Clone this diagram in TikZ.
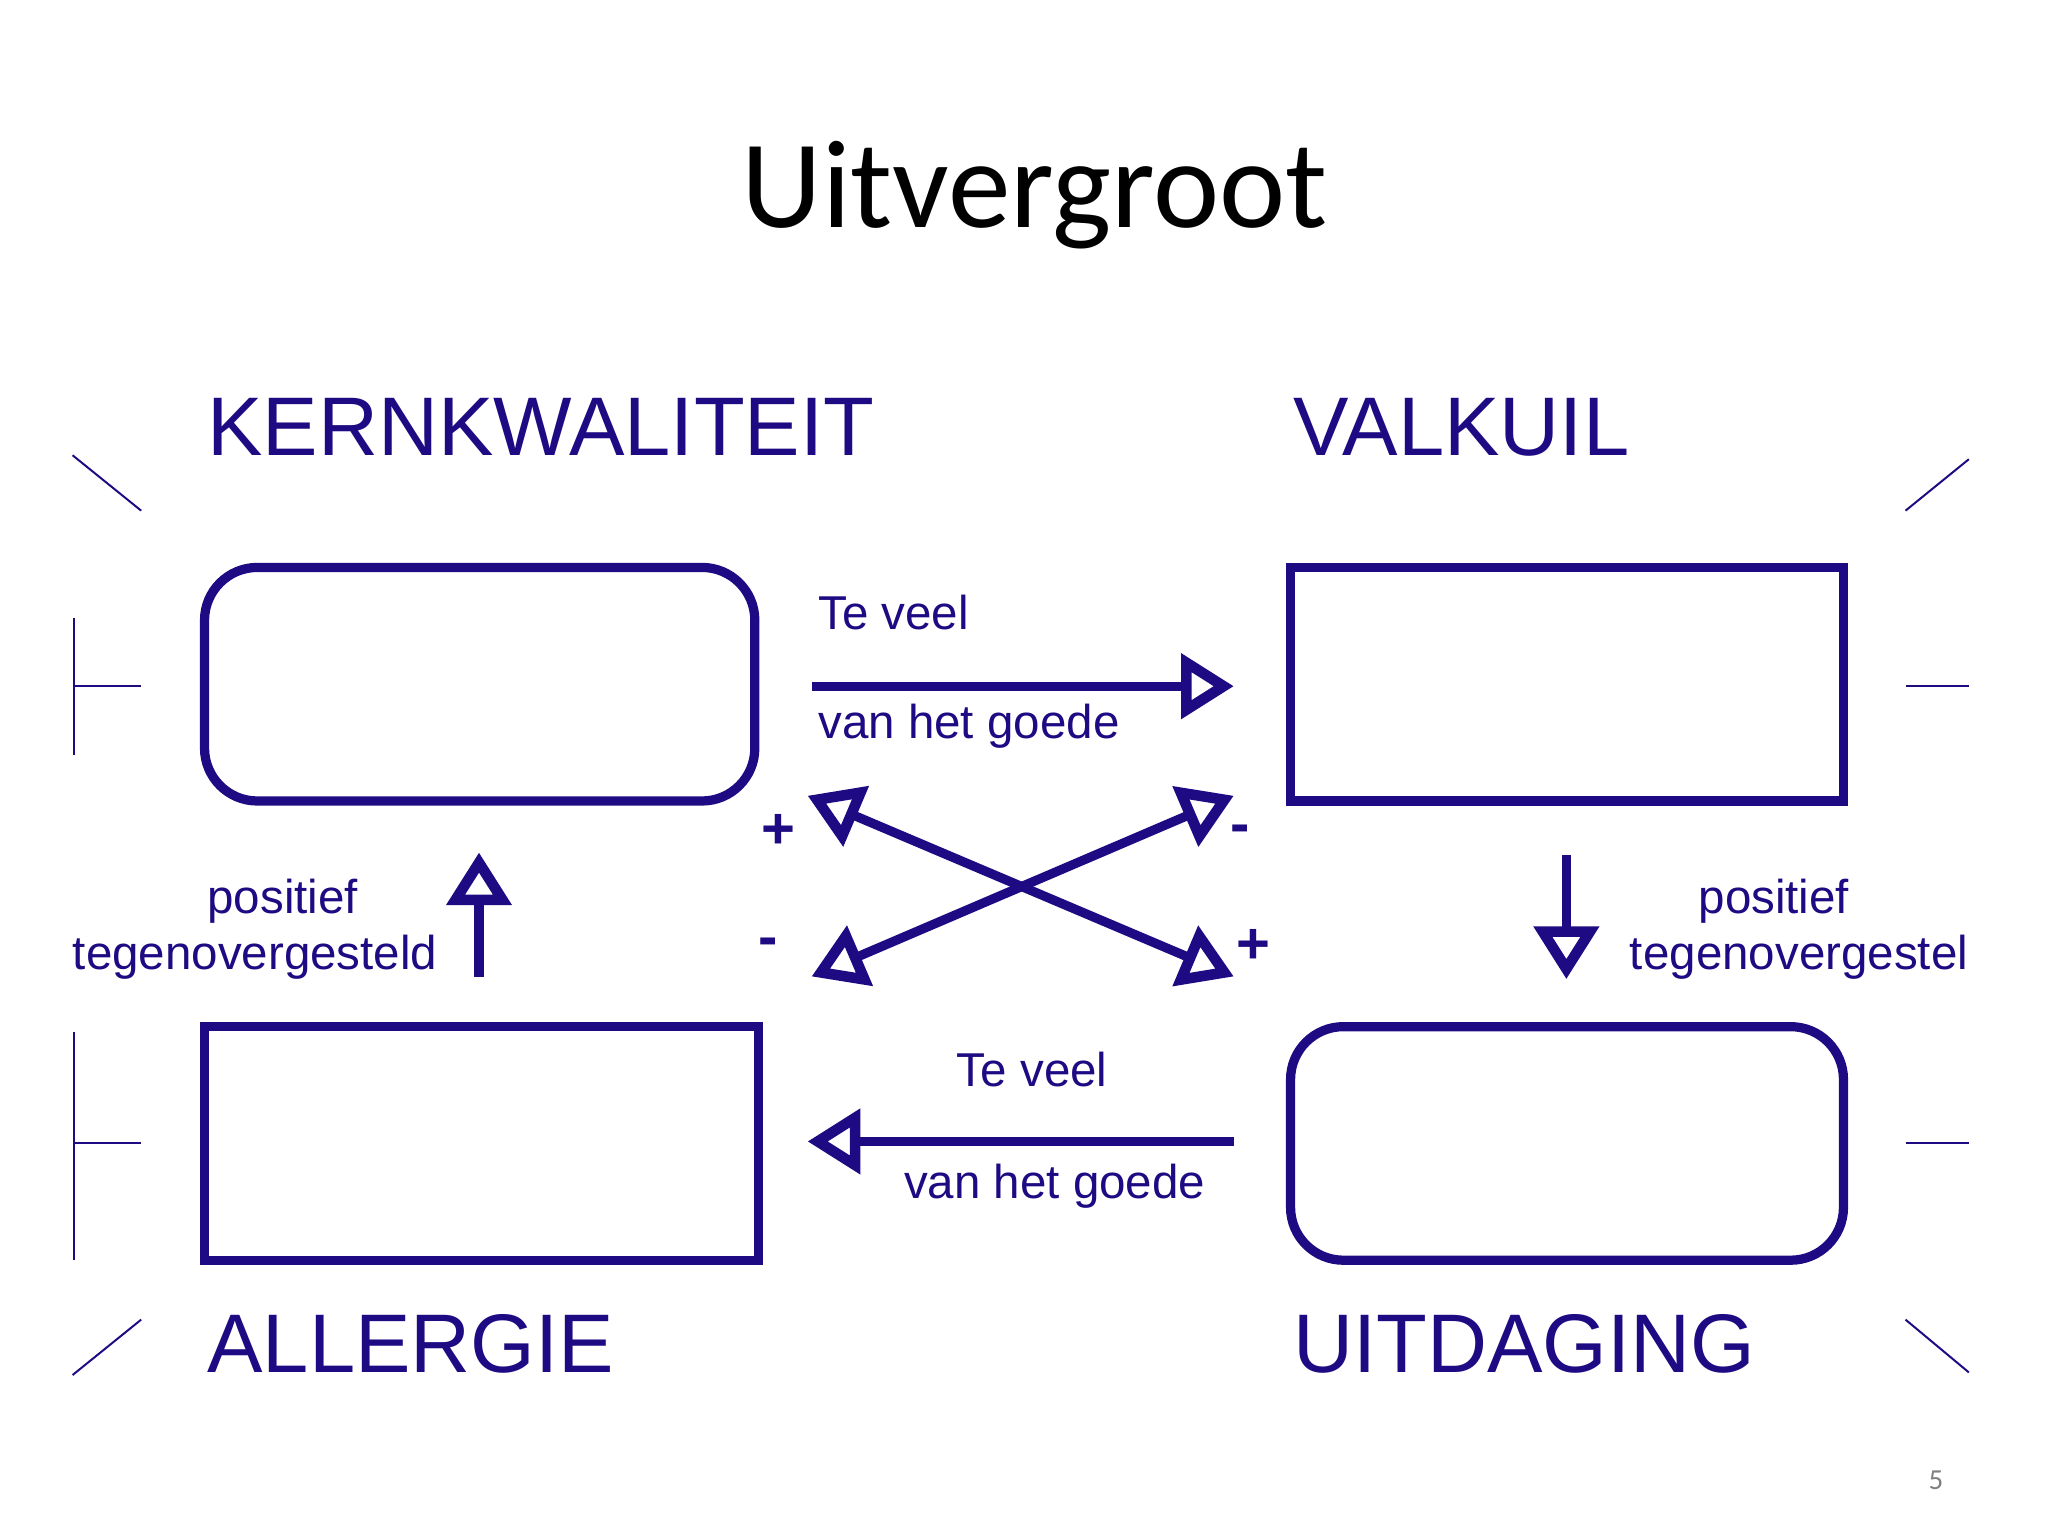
\documentclass[tikz,border=0pt]{standalone}
\usepackage{fontspec}
\setmainfont{Liberation Sans}
\newfontfamily\titlefont{Carlito}
\usetikzlibrary{arrows.meta}
\definecolor{navy}{HTML}{1E0A82}
\tikzset{
 box/.style={draw=navy,line width=7pt},
 big/.style={anchor=base west,text=navy,font=\fontsize{63}{65}\selectfont,inner sep=0},
 small/.style={anchor=base west,text=navy,font=\fontsize{36}{38}\selectfont,inner sep=0},
 sign/.style={anchor=center,text=navy,font=\bfseries\fontsize{44}{46}\selectfont,inner sep=0},
 arr/.style={draw=navy,line width=7pt,-{Triangle[open,length=40pt,width=48pt,line width=8pt]}},
 darr/.style={draw=navy,line width=7pt,{Triangle[open,length=40pt,width=48pt,line width=8pt]}-{Triangle[open,length=40pt,width=48pt,line width=8pt]}},
 tick/.style={draw=navy,line width=1.5pt}
}
\begin{document}
\begin{tikzpicture}[x=1pt,y=-1pt]
\useasboundingbox (0,0) rectangle (1552,1164);
\node[font=\titlefont\fontsize{95}{105}\selectfont] (title) at (784,148) {Uitvergroot};
\node[big] (kk) at (157,345) {KERNKWALITEIT};
\node[big] (vk) at (980,345) {VALKUIL};
\node[big] (al) at (157,1040) {ALLERGIE};
\node[big] (ui) at (980,1040) {UITDAGING};
\draw[box,rounded corners=40pt] (155,430) rectangle (572,607);
\draw[box] (978,430) rectangle (1397,607);
\draw[box] (155,778) rectangle (575,955);
\draw[box,rounded corners=40pt] (978,778) rectangle (1397,955);
\coordinate (r1) at (615,520); \coordinate (r2) at (935,520);
\draw[arr] (r1) -- (r2);
\node[small] (t1) at (620,477) {Te veel};
\node[small] (t2) at (620,560) {van het goede};
\coordinate (l1) at (935,865); \coordinate (l2) at (612,865);
\draw[arr] (l1) -- (l2);
\node[small] (t3) at (725,823) {Te veel};
\node[small] (t4) at (685,908) {van het goede};
\coordinate (c1) at (612,603); \coordinate (c2) at (935,740);
\coordinate (c3) at (615,740); \coordinate (c4) at (935,603);
\draw[darr] (c1) -- (c2);
\draw[darr] (c3) -- (c4);
\node[sign] (p1) at (590,630) {+};
\node[sign] (m1) at (940,632) {-};
\node[sign] (m2) at (582,718) {-};
\node[sign] (p2) at (950,717) {+};
\coordinate (u1) at (363,740); \coordinate (u2) at (363,646);
\draw[arr] (u1) -- (u2);
\node[small] (pos1) at (157,692) {positief};
\node[small] (teg1) at (55,735) {tegenovergesteld};
\coordinate (d1) at (1187,648); \coordinate (d2) at (1187,742);
\draw[arr] (d1) -- (d2);
\node[small] (pos2) at (1287,692) {positief};
\begin{scope}
\clip (1200,690) rectangle (1492,760);
\node[small] (teg2) at (1235,735) {tegenovergesteld};
\end{scope}
\draw[tick] (55,345) -- (107,387);
\draw[tick] (56,468) -- (56,572) (56,520) -- (107,520);
\draw[tick] (56,782) -- (56,955) (56,866) -- (107,866);
\draw[tick] (55,1042) -- (107,1000);
\draw[tick] (1444,387) -- (1492,348);
\draw[tick] (1444,520) -- (1492,520);
\draw[tick] (1444,866) -- (1492,866);
\draw[tick] (1444,1000) -- (1492,1040);
\node[text=gray,font=\titlefont\fontsize{22}{24}\selectfont] (num) at (1467,1122) {5};
\end{tikzpicture}
\end{document}
